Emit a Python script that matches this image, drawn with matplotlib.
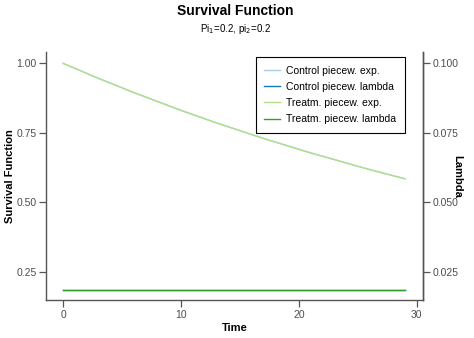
import matplotlib.pyplot as plt
from matplotlib.ticker import FormatStrFormatter

# data
time = list(range(30))
surv_ctrl = [1.000, 0.982, 0.964, 0.946, 0.929, 0.912, 0.895, 0.879, 0.863, 0.847,
             0.831, 0.816, 0.801, 0.786, 0.772, 0.758, 0.744, 0.730, 0.717, 0.704,
             0.691, 0.678, 0.666, 0.654, 0.642, 0.630, 0.618, 0.607, 0.596, 0.585]
surv_trt = list(surv_ctrl)
lambda_ctrl = [0.0185] * 30
lambda_trt = [0.0185] * 30

labels = ["Control piecew. exp.", "Control piecew. lambda",
          "Treatm. piecew. exp.", "Treatm. piecew. lambda"]
colors = ["#a6cee3", "#1f78b4", "#b2df8a", "#33a02c"]

plt.rcParams['font.family'] = ['Liberation Sans', 'DejaVu Sans']

fig = plt.figure(figsize=(4.74, 3.38), dpi=100)
ax = fig.add_axes([0.0975, 0.111, 0.794, 0.736])
ax2 = ax.twinx()

l1, = ax.plot(time, surv_ctrl, color=colors[0], lw=1.0)
l3, = ax.plot(time, surv_trt, color=colors[2], lw=1.0)
l2, = ax2.plot(time, lambda_ctrl, color=colors[1], lw=1.0)
l4, = ax2.plot(time, lambda_trt, color=colors[3], lw=1.0)

ax.set_xlim(-1.44, 30.5)
ax.set_ylim(0.147, 1.042)
ax2.set_ylim(0.0147, 0.1042)
ax.set_xticks([0, 10, 20, 30])
ax.set_yticks([0.25, 0.5, 0.75, 1.0])
ax2.set_yticks([0.025, 0.05, 0.075, 0.1])
ax.yaxis.set_major_formatter(FormatStrFormatter('%.2f'))
ax2.yaxis.set_major_formatter(FormatStrFormatter('%.3f'))

spine_col = "#555555"
for a in (ax, ax2):
    a.spines['top'].set_visible(False)
    for s in a.spines.values():
        s.set_color(spine_col)
        s.set_linewidth(1.0)
    a.tick_params(direction='out', length=5, width=0.9, color=spine_col,
                  labelcolor="#4d4d4d", labelsize=7.5, pad=2)
ax2.spines['left'].set_visible(False)
ax2.spines['bottom'].set_visible(False)

ax.set_xlabel("Time", fontsize=8, fontweight='bold', labelpad=2)
ax.set_ylabel("Survival Function", fontsize=8, fontweight='bold', labelpad=1)
ax2.set_ylabel("Lambda", fontsize=8, fontweight='bold', rotation=-90, labelpad=3)

fig.text(0.497, 0.967, "Survival Function", ha='center', va='center',
         fontsize=10, fontweight='bold')
fig.text(0.497, 0.914, r"Pi$_1$=0.2, pi$_2$=0.2", ha='center', va='center',
         fontsize=7)

leg = ax2.legend([l1, l2, l3, l4], labels, loc='upper right',
                 bbox_to_anchor=(0.952, 0.978), fontsize=7.5, fancybox=False,
                 framealpha=1, edgecolor='black', handlelength=1.5,
                 borderpad=0.8, labelspacing=0.6, borderaxespad=0,
                 handletextpad=0.6)
leg.get_frame().set_linewidth(0.8)

fig.savefig("out.png", dpi=100)
